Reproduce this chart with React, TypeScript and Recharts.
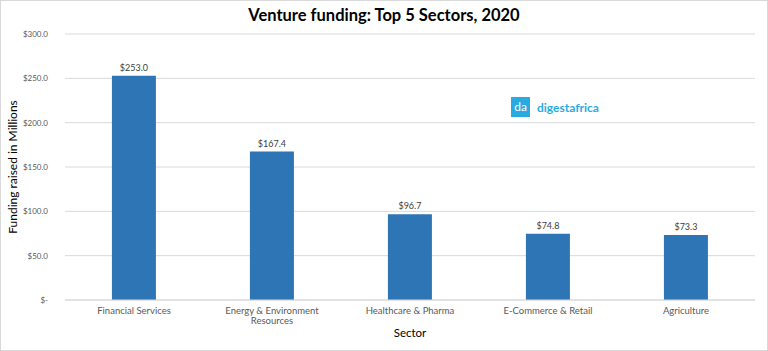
import { Bar, BarChart, CartesianGrid, LabelList, XAxis, YAxis } from "recharts";

const sectors = [
  "Financial Services",
  "Energy & Environment Resources",
  "Healthcare & Pharma",
  "E-Commerce & Retail",
  "Agriculture",
];
const funding = [253.0, 167.4, 96.7, 74.8, 73.3];
const yTicks = [0, 50, 100, 150, 200, 250, 300];

const data = sectors.map((sector, i) => ({ sector, funding: funding[i] }));

const tickFont = "Lato, 'Open Sans', sans-serif";

function wrapWords(text: string, maxChars: number) {
  const lines: string[] = [];
  let line = "";
  for (const word of text.split(" ")) {
    const next = line ? `${line} ${word}` : word;
    if (next.length > maxChars && line) {
      lines.push(line);
      line = word;
    } else {
      line = next;
    }
  }
  if (line) lines.push(line);
  return lines;
}

function SectorTick(props: any) {
  const { x, y, payload } = props;
  const lines = wrapWords(payload.value, 20);
  return (
    <text x={x} y={y} textAnchor="middle" fill="#595959" fontSize={9.5} fontFamily={tickFont}>
      {lines.map((l, i) => (
        <tspan key={i} x={x} dy={i === 0 ? 12 : 10}>
          {l}
        </tspan>
      ))}
    </text>
  );
}

export default function App() {
  return (
    <div
      style={{
        position: "absolute",
        left: 0,
        top: 0,
        width: 768,
        height: 351,
        background: "#fff",
        boxSizing: "border-box",
        border: "1px solid #d9d9d9",
      }}
    >
      <BarChart
        width={766}
        height={349}
        data={data}
        margin={{ top: 33, right: 12, bottom: 0, left: 0 }}
        barCategoryGap="34%"
        style={{ position: "absolute", left: 0, top: 0 }}
      >
        <text
          x={383}
          y={20}
          textAnchor="middle"
          fontFamily="Lato, sans-serif"
          fontWeight={700}
          fontSize={16.5}
          fill="#000"
        >
          Venture funding: Top 5 Sectors, 2020
        </text>
        <CartesianGrid vertical={false} stroke="#d9d9d9" />
        <XAxis
          dataKey="sector"
          height={50}
          axisLine={{ stroke: "#d9d9d9" }}
          tickLine={false}
          tickSize={0}
          tick={<SectorTick />}
          interval={0}
          label={{
            value: "Sector",
            position: "insideBottom",
            offset: 13,
            fill: "#000",
            fontSize: 11.5,
            fontFamily: tickFont,
          }}
        />
        <YAxis
          width={64}
          domain={[0, 300]}
          ticks={yTicks}
          axisLine={false}
          tickLine={false}
          tickSize={0}
          tickMargin={17}
          tick={{ fill: "#595959", fontSize: 8, fontFamily: tickFont }}
          tickFormatter={(v: number) => (v === 0 ? "$-" : `$${v.toFixed(1)}`)}
          label={{
            value: "Funding raised in Millions",
            angle: -90,
            position: "insideLeft",
            offset: 12,
            style: { textAnchor: "middle" },
            fill: "#000",
            fontSize: 12,
            fontFamily: tickFont,
          }}
        />
        <Bar dataKey="funding" fill="#2e75b6" isAnimationActive={false}>
          <LabelList
            dataKey="funding"
            position="top"
            offset={5}
            formatter={(v: number) => `$${v.toFixed(1)}`}
            fill="#404040"
            fontSize={9}
            fontFamily={tickFont}
          />
        </Bar>
        <rect x={510} y={96} width={19} height={20} fill="#29abe2" />
        <text x={519.5} y={110} textAnchor="middle" fill="#fff" fontSize={12} fontFamily={tickFont}>
          da
        </text>
        <text x={536} y={111} fill="#29abe2" fontSize={12} fontWeight={700} fontFamily={tickFont}>
          digestafrica
        </text>
      </BarChart>
    </div>
  );
}
